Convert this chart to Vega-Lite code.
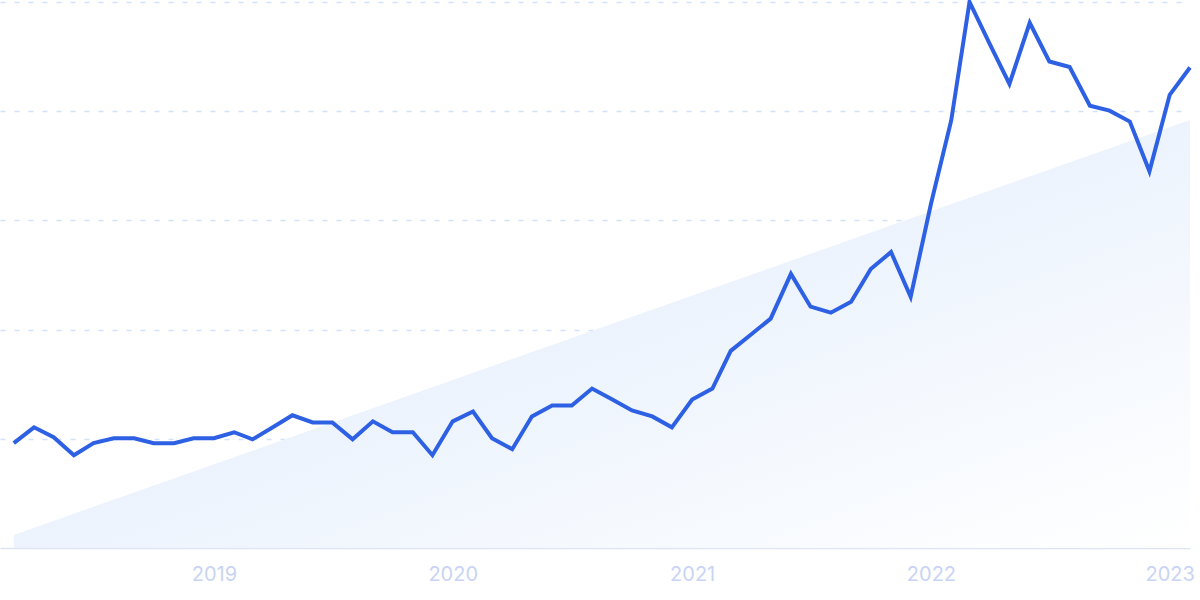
{
  "$schema": "https://vega.github.io/schema/vega-lite/v6.json",
  "width": 1190,
  "height": 546,
  "autosize": {"type": "none"},
  "padding": {"left": 0, "top": 2, "right": 10, "bottom": 52},
  "background": "#ffffff",
  "config": {
    "view": {"stroke": null},
    "font": "Inter"
  },
  "datasets": {
    "interest": [
      {"date": "2018-03-01", "value": 19.2},
      {"date": "2018-04-01", "value": 22.1},
      {"date": "2018-05-01", "value": 20.3},
      {"date": "2018-06-01", "value": 17.0},
      {"date": "2018-07-01", "value": 19.2},
      {"date": "2018-08-01", "value": 20.1},
      {"date": "2018-09-01", "value": 20.1},
      {"date": "2018-10-01", "value": 19.2},
      {"date": "2018-11-01", "value": 19.2},
      {"date": "2018-12-01", "value": 20.1},
      {"date": "2019-01-01", "value": 20.1},
      {"date": "2019-02-01", "value": 21.2},
      {"date": "2019-03-01", "value": 19.9},
      {"date": "2019-04-01", "value": 22.1},
      {"date": "2019-05-01", "value": 24.3},
      {"date": "2019-06-01", "value": 23.0},
      {"date": "2019-07-01", "value": 23.0},
      {"date": "2019-08-01", "value": 19.9},
      {"date": "2019-09-01", "value": 23.2},
      {"date": "2019-10-01", "value": 21.2},
      {"date": "2019-11-01", "value": 21.2},
      {"date": "2019-12-01", "value": 17.0},
      {"date": "2020-01-01", "value": 23.2},
      {"date": "2020-02-01", "value": 25.0},
      {"date": "2020-03-01", "value": 20.1},
      {"date": "2020-04-01", "value": 18.1},
      {"date": "2020-05-01", "value": 24.1},
      {"date": "2020-06-01", "value": 26.1},
      {"date": "2020-07-01", "value": 26.1},
      {"date": "2020-08-01", "value": 29.2},
      {"date": "2020-09-01", "value": 27.2},
      {"date": "2020-10-01", "value": 25.2},
      {"date": "2020-11-01", "value": 24.1},
      {"date": "2020-12-01", "value": 22.1},
      {"date": "2021-01-01", "value": 27.2},
      {"date": "2021-02-01", "value": 29.2},
      {"date": "2021-03-01", "value": 36.1},
      {"date": "2021-04-01", "value": 39.1},
      {"date": "2021-05-01", "value": 42.0},
      {"date": "2021-06-01", "value": 50.2},
      {"date": "2021-07-01", "value": 44.2},
      {"date": "2021-08-01", "value": 43.1},
      {"date": "2021-09-01", "value": 45.1},
      {"date": "2021-10-01", "value": 51.1},
      {"date": "2021-11-01", "value": 54.2},
      {"date": "2021-12-01", "value": 46.0},
      {"date": "2022-01-01", "value": 63.0},
      {"date": "2022-02-01", "value": 78.3},
      {"date": "2022-03-01", "value": 100},
      {"date": "2022-04-01", "value": 92.3},
      {"date": "2022-05-01", "value": 85.0},
      {"date": "2022-06-01", "value": 96.2},
      {"date": "2022-07-01", "value": 89.1},
      {"date": "2022-08-01", "value": 88.1},
      {"date": "2022-09-01", "value": 81.0},
      {"date": "2022-10-01", "value": 80.1},
      {"date": "2022-11-01", "value": 78.1},
      {"date": "2022-12-01", "value": 69.0},
      {"date": "2023-01-01", "value": 83.0},
      {"date": "2023-02-01", "value": 88.0}
    ],
    "trend": [
      {"date": "2018-03-01", "value": 2.4},
      {"date": "2023-02-01", "value": 78.4}
    ]
  },
  "encoding": {
    "x": {
      "field": "date",
      "type": "temporal",
      "scale": {
        "type": "utc",
        "domain": [
          {"year": 2018, "month": 2, "date": 8, "utc": true},
          {"year": 2023, "month": 2, "date": 1, "utc": true}
        ]
      },
      "axis": {
        "title": null,
        "format": "%Y",
        "formatType": "utc",
        "values": [
          {"year": 2019, "month": 1, "date": 1, "utc": true},
          {"year": 2020, "month": 1, "date": 1, "utc": true},
          {"year": 2021, "month": 1, "date": 1, "utc": true},
          {"year": 2022, "month": 1, "date": 1, "utc": true},
          {"year": 2023, "month": 1, "date": 1, "utc": true}
        ],
        "grid": false,
        "ticks": false,
        "domain": true,
        "domainColor": "#dde5f4",
        "domainWidth": 1.5,
        "labelColor": "#c9d4f3",
        "labelFontSize": 20,
        "labelPadding": 16,
        "labelOverlap": false,
        "labelFlush": false
      }
    },
    "y": {
      "field": "value",
      "type": "quantitative",
      "scale": {"domain": [0, 100], "nice": false, "zero": true},
      "axis": {
        "title": null,
        "labels": false,
        "ticks": false,
        "domain": false,
        "values": [20, 40, 60, 80, 100],
        "grid": true,
        "gridColor": "#d2e2fb",
        "gridDash": [5, 9],
        "gridWidth": 1.5
      }
    }
  },
  "layer": [
    {
      "data": {"name": "trend"},
      "mark": {
        "type": "area",
        "color": {
          "gradient": "linear",
          "x1": 0,
          "y1": 0,
          "x2": 1,
          "y2": 1,
          "stops": [
            {"offset": 0, "color": "#dae8fb"},
            {"offset": 1, "color": "#ffffff"}
          ]
        }
      }
    },
    {
      "data": {"name": "interest"},
      "mark": {
        "type": "line",
        "color": "#2e60e3",
        "strokeWidth": 4,
        "strokeJoin": "miter",
        "strokeCap": "butt"
      }
    }
  ]
}
